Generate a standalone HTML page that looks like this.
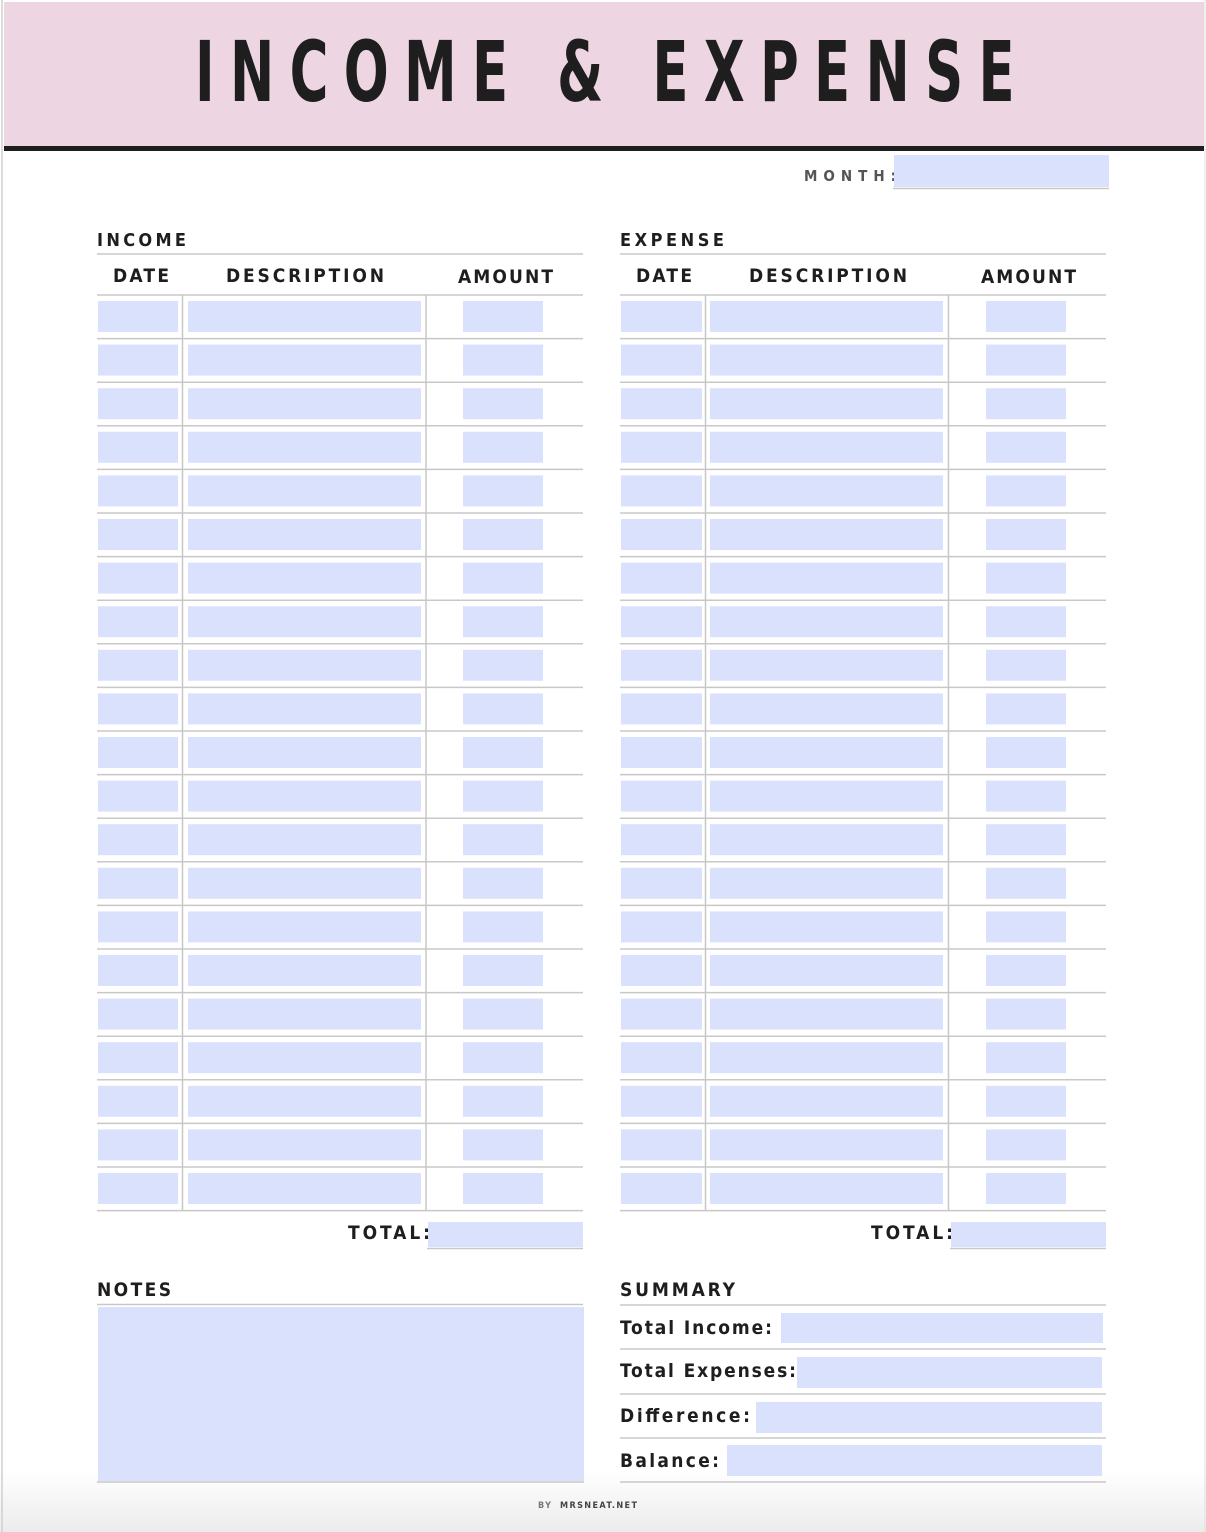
<!DOCTYPE html>
<html><head><meta charset="utf-8"><style>
html,body{margin:0;padding:0;background:#fff}
svg{display:block}
text{font-family:"Liberation Sans Narrow","DejaVu Sans Condensed","Liberation Sans",sans-serif;font-stretch:condensed;font-weight:bold;fill:#1e1e1e}
</style></head><body>
<svg width="1206" height="1532" viewBox="0 0 1206 1532" xmlns="http://www.w3.org/2000/svg">
<defs>
<linearGradient id="g" x1="0" y1="0" x2="0" y2="1"><stop offset="0" stop-color="#fff"/><stop offset="1" stop-color="#ececec"/></linearGradient>
<g id="r">
<line x1="97" y1="0" x2="583" y2="0" stroke="#c8c8c8" stroke-width="1.5"/>
<line x1="620" y1="0" x2="1106" y2="0" stroke="#c8c8c8" stroke-width="1.5"/>
<rect x="98" y="6" width="80" height="31" fill="#dae1fd"/>
<rect x="188" y="6" width="233" height="31" fill="#dae1fd"/>
<rect x="463" y="6" width="80" height="31" fill="#dae1fd"/>
<rect x="621" y="6" width="81" height="31" fill="#dae1fd"/>
<rect x="710" y="6" width="233" height="31" fill="#dae1fd"/>
<rect x="986" y="6" width="80" height="31" fill="#dae1fd"/>
</g>
</defs>
<rect width="1206" height="1532" fill="#fff"/>
<rect x="0" y="1470" width="1206" height="62" fill="url(#g)"/>
<line x1="2" y1="0" x2="2" y2="1532" stroke="#cfcfcf" stroke-width="1.5"/>
<line x1="1205" y1="0" x2="1205" y2="1532" stroke="#e0e0e0" stroke-width="1"/>
<rect x="4" y="2" width="1200" height="144" fill="#eed5e2"/>
<rect x="4" y="146" width="1200" height="5" fill="#1e1e1e"/>
<text transform="translate(195,0) scale(0.7,1)" x="0" y="101" font-size="84" textLength="1171" lengthAdjust="spacing">INCOME &amp; EXPENSE</text>

<text x="804" y="181" font-size="15" style="fill:#555" textLength="92" lengthAdjust="spacing">MONTH:</text>
<rect x="894" y="155" width="215" height="32" fill="#dae1fd"/>
<line x1="893" y1="188.5" x2="1109" y2="188.5" stroke="#c8c8c8" stroke-width="1.5"/>

<text x="97" y="246" font-size="18" textLength="89" lengthAdjust="spacing">INCOME</text>
<text x="620" y="246" font-size="18" textLength="104" lengthAdjust="spacing">EXPENSE</text>
<line x1="97" y1="254" x2="583" y2="254" stroke="#c8c8c8" stroke-width="1.5"/>
<line x1="620" y1="254" x2="1106" y2="254" stroke="#c8c8c8" stroke-width="1.5"/>

<text x="113" y="282" font-size="19" textLength="56" lengthAdjust="spacing">DATE</text>
<text x="226" y="282" font-size="19" textLength="158" lengthAdjust="spacing">DESCRIPTION</text>
<text x="458" y="283" font-size="19" textLength="95" lengthAdjust="spacing">AMOUNT</text>
<text x="636" y="282" font-size="19" textLength="56" lengthAdjust="spacing">DATE</text>
<text x="749" y="282" font-size="19" textLength="158" lengthAdjust="spacing">DESCRIPTION</text>
<text x="981" y="283" font-size="19" textLength="95" lengthAdjust="spacing">AMOUNT</text>

<use href="#r" y="295"/><use href="#r" y="338.6"/><use href="#r" y="382.2"/><use href="#r" y="425.8"/>
<use href="#r" y="469.4"/><use href="#r" y="513"/><use href="#r" y="556.6"/><use href="#r" y="600.2"/>
<use href="#r" y="643.8"/><use href="#r" y="687.4"/><use href="#r" y="731"/><use href="#r" y="774.6"/>
<use href="#r" y="818.2"/><use href="#r" y="861.8"/><use href="#r" y="905.4"/><use href="#r" y="949"/>
<use href="#r" y="992.6"/><use href="#r" y="1036.2"/><use href="#r" y="1079.8"/><use href="#r" y="1123.4"/>
<use href="#r" y="1167"/>
<line x1="97" y1="1210.6" x2="583" y2="1210.6" stroke="#c8c8c8" stroke-width="1.5"/>
<line x1="620" y1="1210.6" x2="1106" y2="1210.6" stroke="#c8c8c8" stroke-width="1.5"/>
<g stroke="#c8c8c8" stroke-width="1.5">
<line x1="182.5" y1="295" x2="182.5" y2="1210"/><line x1="426" y1="295" x2="426" y2="1210"/>
<line x1="705.5" y1="295" x2="705.5" y2="1210"/><line x1="948.5" y1="295" x2="948.5" y2="1210"/>
</g>

<text x="348" y="1239" font-size="19" textLength="82" lengthAdjust="spacing">TOTAL:</text>
<rect x="428" y="1222" width="155" height="25" fill="#dae1fd"/>
<line x1="427" y1="1248.5" x2="583" y2="1248.5" stroke="#c8c8c8" stroke-width="1.5"/>
<text x="871" y="1239" font-size="19" textLength="82" lengthAdjust="spacing">TOTAL:</text>
<rect x="951" y="1222" width="155" height="25" fill="#dae1fd"/>
<line x1="950" y1="1248.5" x2="1106" y2="1248.5" stroke="#c8c8c8" stroke-width="1.5"/>

<text x="97" y="1296" font-size="19" textLength="74" lengthAdjust="spacing">NOTES</text>
<line x1="97" y1="1304.5" x2="583" y2="1304.5" stroke="#c8c8c8" stroke-width="1.5"/>
<rect x="98" y="1307" width="486" height="174" fill="#dae1fd"/>
<line x1="97" y1="1482" x2="584" y2="1482" stroke="#c8c8c8" stroke-width="1.5"/>

<text x="620" y="1296" font-size="19" textLength="115" lengthAdjust="spacing">SUMMARY</text>
<line x1="620" y1="1305" x2="1106" y2="1305" stroke="#c8c8c8" stroke-width="1.5"/>
<text x="620" y="1334" font-size="19" textLength="152" lengthAdjust="spacing">Total Income:</text>
<rect x="781" y="1313" width="322" height="30" fill="#dae1fd"/>
<line x1="620" y1="1349" x2="1106" y2="1349" stroke="#c8c8c8" stroke-width="1.5"/>
<text x="620" y="1377" font-size="19" textLength="176" lengthAdjust="spacing">Total Expenses:</text>
<rect x="797" y="1357" width="305" height="31" fill="#dae1fd"/>
<line x1="620" y1="1394" x2="1106" y2="1394" stroke="#c8c8c8" stroke-width="1.5"/>
<text x="620" y="1422" font-size="19" textLength="130" lengthAdjust="spacing">Difference:</text>
<rect x="756" y="1402" width="346" height="31" fill="#dae1fd"/>
<line x1="620" y1="1438" x2="1106" y2="1438" stroke="#c8c8c8" stroke-width="1.5"/>
<text x="620" y="1467" font-size="19" textLength="99" lengthAdjust="spacing">Balance:</text>
<rect x="727" y="1445" width="375" height="31" fill="#dae1fd"/>
<line x1="620" y1="1482" x2="1106" y2="1482" stroke="#c8c8c8" stroke-width="1.5"/>

<text x="538" y="1508" font-size="9" style="fill:#777" textLength="13" lengthAdjust="spacing">BY</text>
<text x="560" y="1508" font-size="9" style="fill:#444" textLength="77" lengthAdjust="spacing">MRSNEAT.NET</text>
</svg>
</body></html>
